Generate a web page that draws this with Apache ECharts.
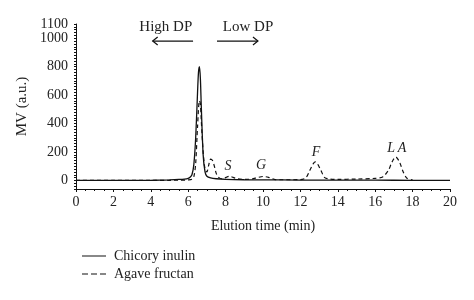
<!DOCTYPE html>
<html>
<head>
<meta charset="utf-8">
<script src="https://cdn.jsdelivr.net/npm/echarts@6/dist/echarts.min.js"></script>
<style>
  html, body { margin: 0; padding: 0; background: #fff; }
  #main { width: 474px; height: 300px; }
</style>
</head>
<body>
<div id="main"></div>
<script>
// elution time (min) and signal (a.u.)
const chicoryTime = [0, 1, 2, 3, 4, 4.5, 5, 5.5, 5.8, 6.0, 6.1, 6.2, 6.3, 6.4, 6.5, 6.55, 6.6, 6.65, 6.7, 6.8, 6.9, 7.0, 7.2, 7.5, 8, 9, 10, 12, 14, 16, 18, 20]
const chicoryMV = [0, 0, 0, 0, 1, 2, 4, 7, 10, 15, 22, 40, 110, 300, 620, 760, 800, 720, 520, 180, 60, 30, 18, 12, 8, 5, 4, 3, 2, 2, 1, 1]

const agaveTime = [0, 2, 4, 5, 5.5, 6, 6.2, 6.3, 6.4, 6.5, 6.6, 6.65, 6.7, 6.8, 6.9, 7.0, 7.1, 7.2, 7.3, 7.4, 7.5, 7.6, 7.8, 8.0, 8.2, 8.4, 8.6, 9, 9.4, 9.7, 10, 10.3, 10.6, 11, 11.5, 12, 12.3, 12.5, 12.7, 12.8, 12.9, 13.1, 13.3, 13.6, 14, 15, 16, 16.4, 16.7, 16.9, 17.1, 17.3, 17.5, 17.7, 18]
const agaveMV = [0, 0, 0, 1, 2, 4, 8, 25, 120, 380, 560, 540, 420, 200, 80, 60, 110, 150, 140, 100, 50, 25, 12, 20, 30, 22, 12, 8, 10, 20, 28, 22, 8, 5, 5, 6, 20, 70, 120, 130, 120, 70, 20, 10, 8, 10, 15, 25, 70, 130, 165, 130, 60, 15, 5]

const yLabels = [0, 200, 400, 600, 800, 1000, 1100]

// peak names (italic) and where they sit
const peakNames = ['S', 'G', 'F', 'L', 'A']
const peakTime = [8.13, 9.9, 12.83, 16.85, 17.43]
const peakMV = [98, 105, 196, 224, 224]

const serif = 'Liberation Serif'
const zip = (a, b) => a.map((x, i) => [x, b[i]])

const main = echarts.init(document.getElementById('main'))

const options = {
  backgroundColor: '#ffffff',
  animation: false,
  textStyle: { fontFamily: serif },
  grid: { left: 76, right: 24, top: 24, bottom: 111 },
  legend: {
    orient: 'vertical',
    left: 77,
    top: 244,
    itemWidth: 24,
    itemHeight: 1.4,
    itemGap: 4,
    textStyle: { fontFamily: serif, fontSize: 14, color: '#222', padding: [0, 0, 0, 3] },
    data: [
      { name: 'Chicory inulin', icon: 'path://M0,0H24V1H0Z' },
      { name: 'Agave fructan', icon: 'path://M0,0H6V1H0Z M9,0H15V1H9Z M18,0H24V1H18Z' }
    ]
  },
  xAxis: {
    type: 'value',
    min: 0,
    max: 20,
    interval: 2,
    name: 'Elution time (min)',
    nameLocation: 'middle',
    nameGap: 30,
    nameTextStyle: { fontFamily: serif, fontSize: 14, color: '#222' },
    axisLine: { onZero: false, lineStyle: { color: '#111', width: 1 } },
    axisTick: { length: 3, lineStyle: { color: '#111' } },
    minorTick: { show: true, splitNumber: 4, length: 2, lineStyle: { color: '#111' } },
    axisLabel: { fontFamily: serif, fontSize: 14, color: '#222', margin: 6 },
    splitLine: { show: false }
  },
  yAxis: {
    type: 'value',
    min: -60,
    max: 1100,
    interval: 20,
    name: 'MV (a.u.)',
    nameLocation: 'middle',
    nameGap: 45,
    nameTextStyle: { fontFamily: serif, fontSize: 15, color: '#222' },
    axisLine: { onZero: false, lineStyle: { color: '#111', width: 1 } },
    axisTick: { length: 2, lineStyle: { color: '#111' } },
    axisLabel: {
      interval: 0,
      fontFamily: serif,
      fontSize: 14,
      color: '#222',
      margin: 8,
      formatter: v => (yLabels.includes(v) ? String(v) : '')
    },
    splitLine: { show: false }
  },
  series: [
    {
      name: 'Chicory inulin',
      type: 'line',
      data: zip(chicoryTime, chicoryMV),
      smooth: 0.3,
      symbol: 'none',
      lineStyle: { color: '#111', width: 1.3 },
      itemStyle: { color: '#111' },
      z: 3
    },
    {
      name: 'Agave fructan',
      type: 'line',
      data: zip(agaveTime, agaveMV),
      smooth: 0.3,
      symbol: 'none',
      lineStyle: { color: '#111', width: 1.2, type: [4, 3] },
      itemStyle: { color: '#111' },
      markPoint: {
        symbol: 'circle',
        symbolSize: 1,
        silent: true,
        itemStyle: { color: 'rgba(0,0,0,0)' },
        label: {
          show: true,
          position: 'inside',
          fontFamily: serif,
          fontStyle: 'italic',
          fontSize: 14,
          color: '#222',
          formatter: p => p.name
        },
        data: peakNames.map((n, i) => ({ name: n, coord: [peakTime[i], peakMV[i]] }))
      },
      z: 2
    }
  ]
}

main.setOption(options)

// "High DP" / "Low DP" notes with their arrows, placed in data units
const px = (t, v) => main.convertToPixel({ gridIndex: 0 }, [t, v])
const hd = px(4.8, 1078)
const ld = px(9.2, 1078)
const a1 = px(6.26, 980), a2 = px(4.1, 980)
const b1 = px(7.54, 980), b2 = px(9.73, 980)
const arrowStyle = { stroke: '#111', lineWidth: 1.2, fill: null }

main.setOption({
  graphic: [
    { type: 'text', x: hd[0], y: hd[1], style: { text: 'High DP', font: '15px ' + serif, fill: '#222', align: 'center', verticalAlign: 'middle' } },
    { type: 'text', x: ld[0], y: ld[1], style: { text: 'Low DP', font: '15px ' + serif, fill: '#222', align: 'center', verticalAlign: 'middle' } },
    { type: 'polyline', shape: { points: [a1, a2] }, style: arrowStyle },
    { type: 'polyline', shape: { points: [[a2[0] + 5, a2[1] - 4], a2, [a2[0] + 5, a2[1] + 4]] }, style: arrowStyle },
    { type: 'polyline', shape: { points: [b1, b2] }, style: arrowStyle },
    { type: 'polyline', shape: { points: [[b2[0] - 5, b2[1] - 4], b2, [b2[0] - 5, b2[1] + 4]] }, style: arrowStyle }
  ]
})
</script>
</body>
</html>
